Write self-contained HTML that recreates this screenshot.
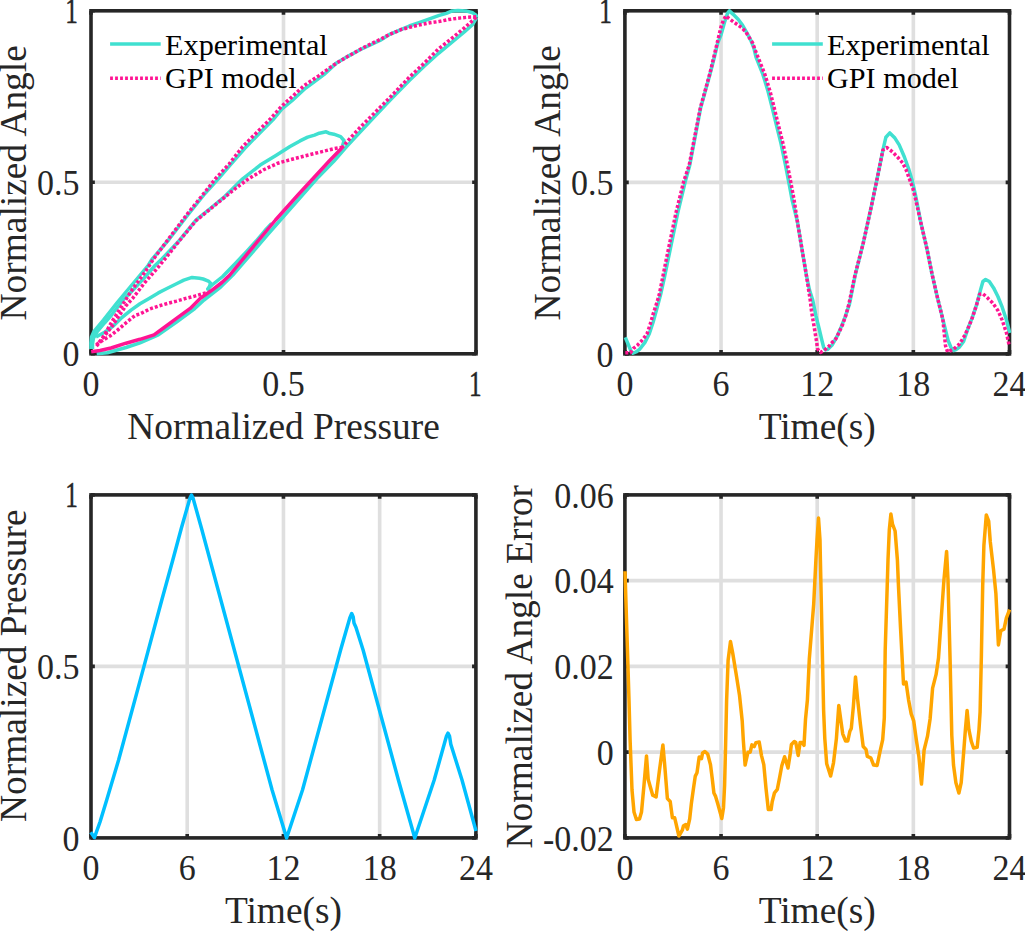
<!DOCTYPE html><html><head><meta charset="utf-8"><style>html,body{margin:0;padding:0;background:#fff;overflow:hidden}svg{display:block}text{font-family:"Liberation Serif",serif;fill:#262626}</style></head><body>
<svg width="1025" height="931" viewBox="0 0 1025 931">
<rect width="1025" height="931" fill="#fff"/>
<path d="M283.5 10.8V353.8M91 182.3H476" stroke="#262626" stroke-opacity="0.15" stroke-width="3.6" fill="none"/>
<path d="M91 353.8v-3.85M91 10.8v3.85M283.5 353.8v-3.85M283.5 10.8v3.85M476 353.8v-3.85M476 10.8v3.85M91 353.8h3.85M476 353.8h-3.85M91 182.3h3.85M476 182.3h-3.85M91 10.8h3.85M476 10.8h-3.85" stroke="#262626" stroke-width="3.6" fill="none"/>
<rect x="91" y="10.8" width="385" height="343" fill="none" stroke="#262626" stroke-width="3.6"/>
<path d="M96.7 353.8 107.5 352.7 126.0 347.5 140.0 342.8 158.3 334.9 176.5 322.1 194.8 308.5 204.0 300.0 220.6 287.0 232.8 275.0 244.0 262.0 252.5 252.4 267.2 235.0 302.4 195.0 316.5 179.0 333.8 161.3 346.4 146.8 358.0 134.2 372.5 118.8 390.9 99.4 409.3 80.5 423.9 66.5 438.5 53.3 453.2 41.1 464.9 31.3 472.7 24.5 476.6 17.7" stroke="#40E0D0" stroke-width="3.5" fill="none" stroke-linejoin="round"/><path d="M476.6 17.7 476.0 15.2 472.7 12.8 465.9 10.9 458.0 10.4 452.2 10.9 446.3 13.3 438.5 15.7 428.8 19.1 419.0 22.6 409.3 26.0 401.5 29.4 389.8 34.3 380.0 40.5 362.9 48.3 348.3 56.1 336.6 62.9 323.9 74.6 312.2 83.4 305.4 88.3 291.7 101.0 282.0 108.8 272.9 119.8 258.3 134.5 244.6 148.5 231.0 164.1 218.3 178.8 205.0 193.5 187.4 215.5 168.9 239.5 151.9 259.5 148.1 265.5 131.8 285.0 117.2 302.5 103.4 320.0 94.0 331.3 91.5 337.0 90.9 343.0 91.0 349.0" stroke="#40E0D0" stroke-width="3.5" fill="none" stroke-linejoin="round"/><path d="M342.6 145.8 344.0 140.5 340.6 136.6 333.8 134.2 329.0 133.2 326.1 131.8 319.3 133.2 314.5 135.1 307.7 137.1 300.0 140.9 290.0 146.6 275.9 155.4 260.2 165.1 242.7 178.8 225.0 196.3 210.9 208.0 196.2 219.8 179.6 240.2 162.1 258.8 155.0 265.5 143.8 278.4 133.0 290.0 123.0 300.0 111.5 315.0 104.5 323.0 97.0 332.0 93.5 338.0 92.5 344.0 92.5 349.0" stroke="#40E0D0" stroke-width="3.5" fill="none" stroke-linejoin="round"/><path d="M207.4 290.8 209.0 287.6 210.6 283.3 208.4 281.1 203.1 279.0 199.4 278.3 192.1 277.4 183.8 280.1 176.5 283.7 167.4 288.3 158.3 292.9 149.1 298.4 140.0 303.8 131.0 310.1 120.6 318.7 113.8 325.6 105.0 332.0 96.0 337.0" stroke="#40E0D0" stroke-width="3.5" fill="none" stroke-linejoin="round"/><path d="M207.0 289.5 212.0 285.0 222.7 276.5 236.3 262.5 246.5 251.6 256.2 241.0 265.0 230.5 271.6 223.5" stroke="#40E0D0" stroke-width="3.5" fill="none" stroke-linejoin="round"/><path d="M91.2 351.8 100.0 350.5 111.0 348.0 126.0 343.2 140.0 339.3 154.0 334.8 162.8 328.5 176.5 318.4 190.2 308.4 200.4 298.3 211.1 290.8 221.9 282.5 229.8 275.0 247.5 253.7 263.0 235.0 275.5 220.0 297.9 195.0 311.7 180.0 329.0 161.3 341.6 148.2" stroke="#FF1493" stroke-width="3.5" fill="none" stroke-linejoin="round"/><path d="M341.6 148.2 350.3 138.0 361.0 126.5 372.5 115.0 390.9 96.5 409.3 77.2 423.9 63.5 438.5 48.9 453.2 37.2 464.9 27.4 473.7 19.6 476.1 17.2" stroke="#FF1493" stroke-width="3.5" fill="none" stroke-linejoin="round" stroke-dasharray="3 2"/><path d="M476.1 16.7 467.8 17.2 458.0 18.2 448.3 19.6 438.5 21.6 428.8 23.0 419.0 25.0 409.3 27.4 401.5 29.4 389.8 34.3 380.0 39.5 362.9 47.8 348.3 56.1 333.7 64.9 319.0 75.6 304.4 85.4 291.7 97.1 281.0 106.8 270.0 119.3 256.3 132.9 242.7 146.6 229.0 164.1 215.4 178.8 205.0 192.0 187.4 213.9 168.9 238.3 153.7 258.8 144.8 272.3 132.8 288.7 122.4 305.0 112.1 321.3 104.6 334.6 99.8 342.3 95.6 347.0" stroke="#FF1493" stroke-width="3.5" fill="none" stroke-linejoin="round" stroke-dasharray="3 2"/><path d="M342.6 147.2 333.8 148.7 324.2 151.1 314.5 153.5 304.8 155.9 290.0 159.8 277.8 163.2 263.2 170.0 248.5 178.8 236.0 188.0 225.0 197.0 210.9 208.5 196.2 220.5 179.6 240.5 168.0 255.2 156.8 268.9 144.8 282.6 132.8 298.1 125.9 305.8 118.2 317.0 111.3 327.3 102.8 338.0 96.8 345.0" stroke="#FF1493" stroke-width="3.5" fill="none" stroke-linejoin="round" stroke-dasharray="3 2"/><path d="M205.8 292.9 194.8 296.1 185.7 298.4 176.5 301.1 167.4 303.4 158.3 306.1 149.1 309.3 140.0 313.9 135.3 315.3 126.7 322.2 118.9 329.0 110.0 336.0 100.0 342.0 96.0 344.8" stroke="#FF1493" stroke-width="3.5" fill="none" stroke-linejoin="round" stroke-dasharray="3 2"/>
<text transform="translate(91 395.6) scale(1 1.065)" font-size="34" text-anchor="middle">0</text>
<text transform="translate(283.5 395.6) scale(1 1.065)" font-size="34" text-anchor="middle">0.5</text>
<text transform="translate(475.7 395.6) scale(0.74 1.065)" font-size="34" x="-8.96" stroke="#262626" stroke-width="0.45">1</text>
<text transform="translate(79.6 366.4) scale(1 1.065)" font-size="34" text-anchor="end">0</text>
<text transform="translate(79.6 194.9) scale(1 1.065)" font-size="34" text-anchor="end">0.5</text>
<text transform="translate(71.96 22.9) scale(0.74 1.065)" font-size="34" x="-8.96" stroke="#262626" stroke-width="0.45">1</text>
<text x="283.5" y="439" font-size="37.4" text-anchor="middle">Normalized Pressure</text>
<text transform="translate(26 182.8) rotate(-90)" font-size="37.4" text-anchor="middle">Normalized Angle</text>
<path d="M721.05 10.8V353.9M817.2 10.8V353.9M913.35 10.8V353.9M624.9 182.35H1009.5" stroke="#262626" stroke-opacity="0.15" stroke-width="3.6" fill="none"/>
<path d="M624.9 353.9v-3.85M624.9 10.8v3.85M721.05 353.9v-3.85M721.05 10.8v3.85M817.2 353.9v-3.85M817.2 10.8v3.85M913.35 353.9v-3.85M913.35 10.8v3.85M1009.5 353.9v-3.85M1009.5 10.8v3.85M624.9 353.9h3.85M1009.5 353.9h-3.85M624.9 182.35h3.85M1009.5 182.35h-3.85M624.9 10.8h3.85M1009.5 10.8h-3.85" stroke="#262626" stroke-width="3.6" fill="none"/>
<rect x="624.9" y="10.8" width="384.6" height="343.1" fill="none" stroke="#262626" stroke-width="3.6"/>
<path d="M625.3 337.4 628.5 345.0 631.0 351.0 633.0 353.2 636.0 352.0 639.5 349.4 644.8 342.6 649.3 333.6 653.1 322.3 656.8 308.8 660.6 294.5 664.5 277.0 668.8 256.2 677.8 212.6 685.2 181.8 689.8 165.0 700.6 108.1 710.1 73.7 714.9 55.0 717.8 42.8 721.1 34.5 724.9 21.1 727.6 13.1 729.4 10.9 732.9 14.1 738.3 19.5 742.6 25.4 746.9 32.9 750.6 39.9 753.9 48.0 756.0 57.2 762.9 74.4 768.1 91.5 772.4 108.7 776.6 125.9 780.9 143.1 785.2 163.7 789.5 186.0 792.1 200.0 797.4 221.6 801.8 248.2 806.3 274.8 809.5 290.0 812.7 300.0 816.0 316.1 819.2 329.0 821.8 340.0 823.7 347.5 825.5 349.8 827.6 349.6 832.1 345.1 837.2 336.1 841.1 327.1 845.0 317.4 849.5 303.9 855.2 275.1 863.4 242.4 871.5 205.7 877.7 175.9 882.9 150.1 885.9 137.2 889.8 132.9 894.9 138.1 899.2 144.9 904.4 157.0 908.7 169.0 912.1 180.2 915.6 195.7 920.6 221.6 926.8 248.2 932.2 274.8 937.5 297.8 942.8 319.1 948.1 340.4 951.0 347.5 953.4 350.5 956.0 349.5 959.5 347.0 963.6 341.5 967.9 328.7 972.2 317.9 976.5 305.1 980.2 291.1 982.9 281.5 985.6 279.5 989.3 281.5 993.6 287.9 997.9 296.5 1002.2 307.2 1006.5 320.1 1009.7 333.0" stroke="#40E0D0" stroke-width="3.5" fill="none" stroke-linejoin="round"/><path d="M625.3 352.8 630.5 352.8 633.5 348.3 637.3 345.3 640.7 341.9 644.1 337.7 647.1 333.6 650.1 324.6 653.1 314.1 656.1 305.0 659.1 295.3 667.0 256.0 676.0 212.6 683.6 181.8 689.2 165.0 700.3 108.0 709.8 73.7 714.3 55.0 717.9 39.9 721.1 26.5 723.3 20.6 725.8 15.8 729.7 19.0 734.0 22.2 737.8 24.9 742.1 28.1 745.8 31.9 749.0 37.2 752.5 42.6 755.0 49.6 758.0 57.2 764.9 74.4 770.1 91.5 774.4 108.7 778.6 125.9 782.9 143.1 787.2 163.7 791.5 186.0 794.1 200.0 797.4 221.6 801.8 248.2 806.3 274.8 810.2 300.0 811.4 310.3 813.1 320.6 814.7 330.3 816.3 340.0 817.6 349.0 820.5 352.5 824.3 350.3 828.8 346.4 832.1 342.5 835.9 338.7 839.1 332.2 842.4 325.1 845.6 316.1 848.8 304.5 855.0 275.0 863.4 242.4 871.5 205.7 877.7 175.9 882.9 150.1 886.8 147.5 892.4 151.8 897.5 157.0 902.7 163.0 906.1 169.9 909.6 179.3 913.0 188.8 915.6 199.1 920.6 221.6 926.8 248.2 932.2 274.8 937.5 297.8 942.8 319.1 945.5 345.7 947.6 352.0 953.4 349.3 959.6 343.9 963.6 337.3 967.9 328.7 972.2 317.9 976.5 305.1 979.7 294.3 982.9 293.8 987.2 297.6 992.6 302.9 997.9 310.4 1002.2 320.1 1006.5 333.0 1009.2 345.8" stroke="#FF1493" stroke-width="3.5" fill="none" stroke-linejoin="round" stroke-dasharray="3 2"/>
<text transform="translate(624.9 395.7) scale(1 1.065)" font-size="34" text-anchor="middle">0</text>
<text transform="translate(721.05 395.7) scale(1 1.065)" font-size="34" text-anchor="middle">6</text>
<text transform="translate(817.2 395.7) scale(1 1.065)" font-size="34" text-anchor="middle">12</text>
<text transform="translate(913.35 395.7) scale(1 1.065)" font-size="34" text-anchor="middle">18</text>
<text transform="translate(1009.5 395.7) scale(1 1.065)" font-size="34" text-anchor="middle">24</text>
<text transform="translate(613.4 366.5) scale(1 1.065)" font-size="34" text-anchor="end">0</text>
<text transform="translate(613.4 194.95) scale(1 1.065)" font-size="34" text-anchor="end">0.5</text>
<text transform="translate(605.76 22.9) scale(0.74 1.065)" font-size="34" x="-8.96" stroke="#262626" stroke-width="0.45">1</text>
<text x="817.2" y="439.1" font-size="37.4" text-anchor="middle">Time(s)</text>
<text transform="translate(559.7 182.85) rotate(-90)" font-size="37.4" text-anchor="middle">Normalized Angle</text>
<path d="M187.22 494.9V837.9M283.45 494.9V837.9M379.67 494.9V837.9M91 666.4H475.9" stroke="#262626" stroke-opacity="0.15" stroke-width="3.6" fill="none"/>
<path d="M91 837.9v-3.85M91 494.9v3.85M187.22 837.9v-3.85M187.22 494.9v3.85M283.45 837.9v-3.85M283.45 494.9v3.85M379.67 837.9v-3.85M379.67 494.9v3.85M475.9 837.9v-3.85M475.9 494.9v3.85M91 837.9h3.85M475.9 837.9h-3.85M91 666.4h3.85M475.9 666.4h-3.85M91 494.9h3.85M475.9 494.9h-3.85" stroke="#262626" stroke-width="3.6" fill="none"/>
<rect x="91" y="494.9" width="384.9" height="343" fill="none" stroke="#262626" stroke-width="3.6"/>
<path d="M90.8 832.2 94.4 837.6 100.0 822.0 106.7 800.0 118.6 760.0 143.9 666.6 161.8 600.0 172.8 560.0 181.4 528.0 190.0 498.0 191.5 495.0 193.0 498.0 201.4 528.0 272.1 790.0 286.6 838.0 302.5 790.0 340.6 650.0 349.8 618.0 351.7 613.5 353.2 617.0 354.0 623.0 356.0 627.5 363.1 650.0 398.4 780.0 414.8 838.0 434.2 780.0 446.5 736.0 448.0 733.2 449.5 736.0 450.8 744.3 462.0 780.0 476.0 831.0" stroke="#00BFFF" stroke-width="3.5" fill="none" stroke-linejoin="round"/>
<text transform="translate(91 879.7) scale(1 1.065)" font-size="34" text-anchor="middle">0</text>
<text transform="translate(187.22 879.7) scale(1 1.065)" font-size="34" text-anchor="middle">6</text>
<text transform="translate(283.45 879.7) scale(1 1.065)" font-size="34" text-anchor="middle">12</text>
<text transform="translate(379.67 879.7) scale(1 1.065)" font-size="34" text-anchor="middle">18</text>
<text transform="translate(475.9 879.7) scale(1 1.065)" font-size="34" text-anchor="middle">24</text>
<text transform="translate(79.6 850.5) scale(1 1.065)" font-size="34" text-anchor="end">0</text>
<text transform="translate(79.6 679) scale(1 1.065)" font-size="34" text-anchor="end">0.5</text>
<text transform="translate(71.96 507) scale(0.74 1.065)" font-size="34" x="-8.96" stroke="#262626" stroke-width="0.45">1</text>
<text x="283.45" y="923.1" font-size="37.4" text-anchor="middle">Time(s)</text>
<text transform="translate(26.3 665.7) rotate(-90)" font-size="37.4" text-anchor="middle">Normalized Pressure</text>
<path d="M721.05 494.9V837.9M817.2 494.9V837.9M913.35 494.9V837.9M624.9 752.15H1009.5M624.9 666.4H1009.5M624.9 580.65H1009.5" stroke="#262626" stroke-opacity="0.15" stroke-width="3.6" fill="none"/>
<path d="M624.9 837.9v-3.85M624.9 494.9v3.85M721.05 837.9v-3.85M721.05 494.9v3.85M817.2 837.9v-3.85M817.2 494.9v3.85M913.35 837.9v-3.85M913.35 494.9v3.85M1009.5 837.9v-3.85M1009.5 494.9v3.85M624.9 837.9h3.85M1009.5 837.9h-3.85M624.9 752.15h3.85M1009.5 752.15h-3.85M624.9 666.4h3.85M1009.5 666.4h-3.85M624.9 580.65h3.85M1009.5 580.65h-3.85M624.9 494.9h3.85M1009.5 494.9h-3.85" stroke="#262626" stroke-width="3.6" fill="none"/>
<rect x="624.9" y="494.9" width="384.6" height="343" fill="none" stroke="#262626" stroke-width="3.6"/>
<path d="M625.0 571.3 629.0 700.0 630.1 740.0 632.0 790.0 634.0 812.0 636.4 819.5 639.5 819.0 641.5 812.0 644.0 785.0 646.5 756.0 648.2 779.5 652.7 795.3 656.1 797.0 659.5 770.0 662.9 745.0 664.5 762.6 667.4 798.6 670.2 801.5 672.4 817.8 674.7 817.8 678.9 836.0 682.3 830.2 683.5 825.7 685.7 824.6 687.4 829.1 689.7 818.9 691.4 803.2 693.6 787.4 695.3 776.1 697.0 772.7 699.2 756.9 701.5 758.6 702.6 753.0 704.9 751.5 707.7 754.0 710.5 764.8 712.2 778.3 713.9 793.0 715.6 796.4 717.9 804.3 720.1 812.2 721.8 818.5 723.5 807.7 724.6 785.1 725.6 745.0 726.6 700.6 728.1 660.3 730.5 641.5 732.8 653.6 736.1 673.7 739.5 695.2 742.2 720.7 743.3 740.0 745.1 765.0 748.0 752.2 750.2 752.2 751.9 744.9 754.2 746.6 755.9 742.6 759.2 742.0 761.5 755.6 763.8 764.6 766.0 788.3 768.3 809.5 771.1 809.5 772.2 801.8 774.5 792.8 777.3 789.4 779.5 778.2 781.8 765.7 784.6 756.7 788.0 768.0 790.3 753.3 791.4 744.4 794.3 741.5 795.8 742.5 798.2 755.5 800.1 742.5 802.1 742.5 804.0 745.4 805.5 719.3 807.4 700.0 809.3 659.2 813.7 604.1 815.9 560.0 817.0 540.0 818.5 518.0 820.0 540.0 820.4 560.0 822.5 659.2 823.6 710.0 824.8 738.6 826.7 763.8 830.6 776.0 833.5 762.8 836.4 738.6 838.8 705.5 840.7 719.3 842.7 733.8 845.6 741.0 847.8 741.0 849.9 731.2 851.3 728.4 853.4 706.1 855.5 677.0 857.6 699.1 860.4 724.2 863.2 746.6 866.0 749.4 867.3 756.4 870.8 757.8 873.6 765.0 877.1 765.5 879.9 752.2 882.7 739.6 884.3 718.0 885.2 650.0 887.2 586.6 888.0 560.0 889.3 530.0 890.9 514.0 892.5 524.0 895.1 531.0 897.4 560.0 898.5 586.6 900.5 627.4 901.7 650.0 903.5 684.0 906.0 682.1 908.6 700.1 911.2 713.9 913.7 720.8 916.3 739.7 918.9 756.8 921.5 784.0 924.1 750.0 927.5 736.2 930.1 719.0 932.6 688.1 936.1 674.4 938.5 658.0 943.9 580.3 946.6 551.5 948.0 580.3 950.1 660.0 951.0 700.0 951.8 735.5 953.5 765.0 955.9 782.7 958.9 793.0 961.2 782.7 963.6 753.2 965.4 729.6 967.1 710.5 968.9 729.6 971.3 741.4 973.6 748.0 977.2 747.3 979.0 729.6 980.1 711.8 981.4 655.0 982.7 585.6 983.9 545.3 986.3 515.0 988.7 521.1 990.3 542.0 993.5 569.4 995.9 593.6 998.4 645.0 1000.8 630.7 1004.0 629.1 1006.4 617.8 1009.6 609.7" stroke="#FFA500" stroke-width="3.5" fill="none" stroke-linejoin="round"/>
<text transform="translate(624.9 879.7) scale(1 1.065)" font-size="34" text-anchor="middle">0</text>
<text transform="translate(721.05 879.7) scale(1 1.065)" font-size="34" text-anchor="middle">6</text>
<text transform="translate(817.2 879.7) scale(1 1.065)" font-size="34" text-anchor="middle">12</text>
<text transform="translate(913.35 879.7) scale(1 1.065)" font-size="34" text-anchor="middle">18</text>
<text transform="translate(1009.5 879.7) scale(1 1.065)" font-size="34" text-anchor="middle">24</text>
<text transform="translate(613.8 850.5) scale(1 1.065)" font-size="34" text-anchor="end">-0.02</text>
<text transform="translate(613.8 764.75) scale(1 1.065)" font-size="34" text-anchor="end">0</text>
<text transform="translate(613.8 679) scale(1 1.065)" font-size="34" text-anchor="end">0.02</text>
<text transform="translate(613.8 593.25) scale(1 1.065)" font-size="34" text-anchor="end">0.04</text>
<text transform="translate(613.8 507.5) scale(1 1.065)" font-size="34" text-anchor="end">0.06</text>
<text x="817.2" y="923.1" font-size="37.4" text-anchor="middle">Time(s)</text>
<text transform="translate(531.6 666.7) rotate(-90)" font-size="37.4" text-anchor="middle">Normalized Angle Error</text>
<path d="M110.1 43.9H160.7" stroke="#40E0D0" stroke-width="3.5"/>
<path d="M110.1 78.15H160.7" stroke="#FF1493" stroke-width="3.5" stroke-dasharray="2.8 2.2"/>
<text x="165.1" y="54.9" font-size="30.2" fill="#000" style="fill:#000">Experimental</text>
<text x="165.1" y="88.2" font-size="30.2" style="fill:#000">GPI model</text>
<path d="M772.1 43.9H822.8" stroke="#40E0D0" stroke-width="3.5"/>
<path d="M772.1 78.15H822.8" stroke="#FF1493" stroke-width="3.5" stroke-dasharray="2.8 2.2"/>
<text x="827" y="54.9" font-size="30.2" fill="#000" style="fill:#000">Experimental</text>
<text x="827" y="88.2" font-size="30.2" style="fill:#000">GPI model</text>
</svg></body></html>
